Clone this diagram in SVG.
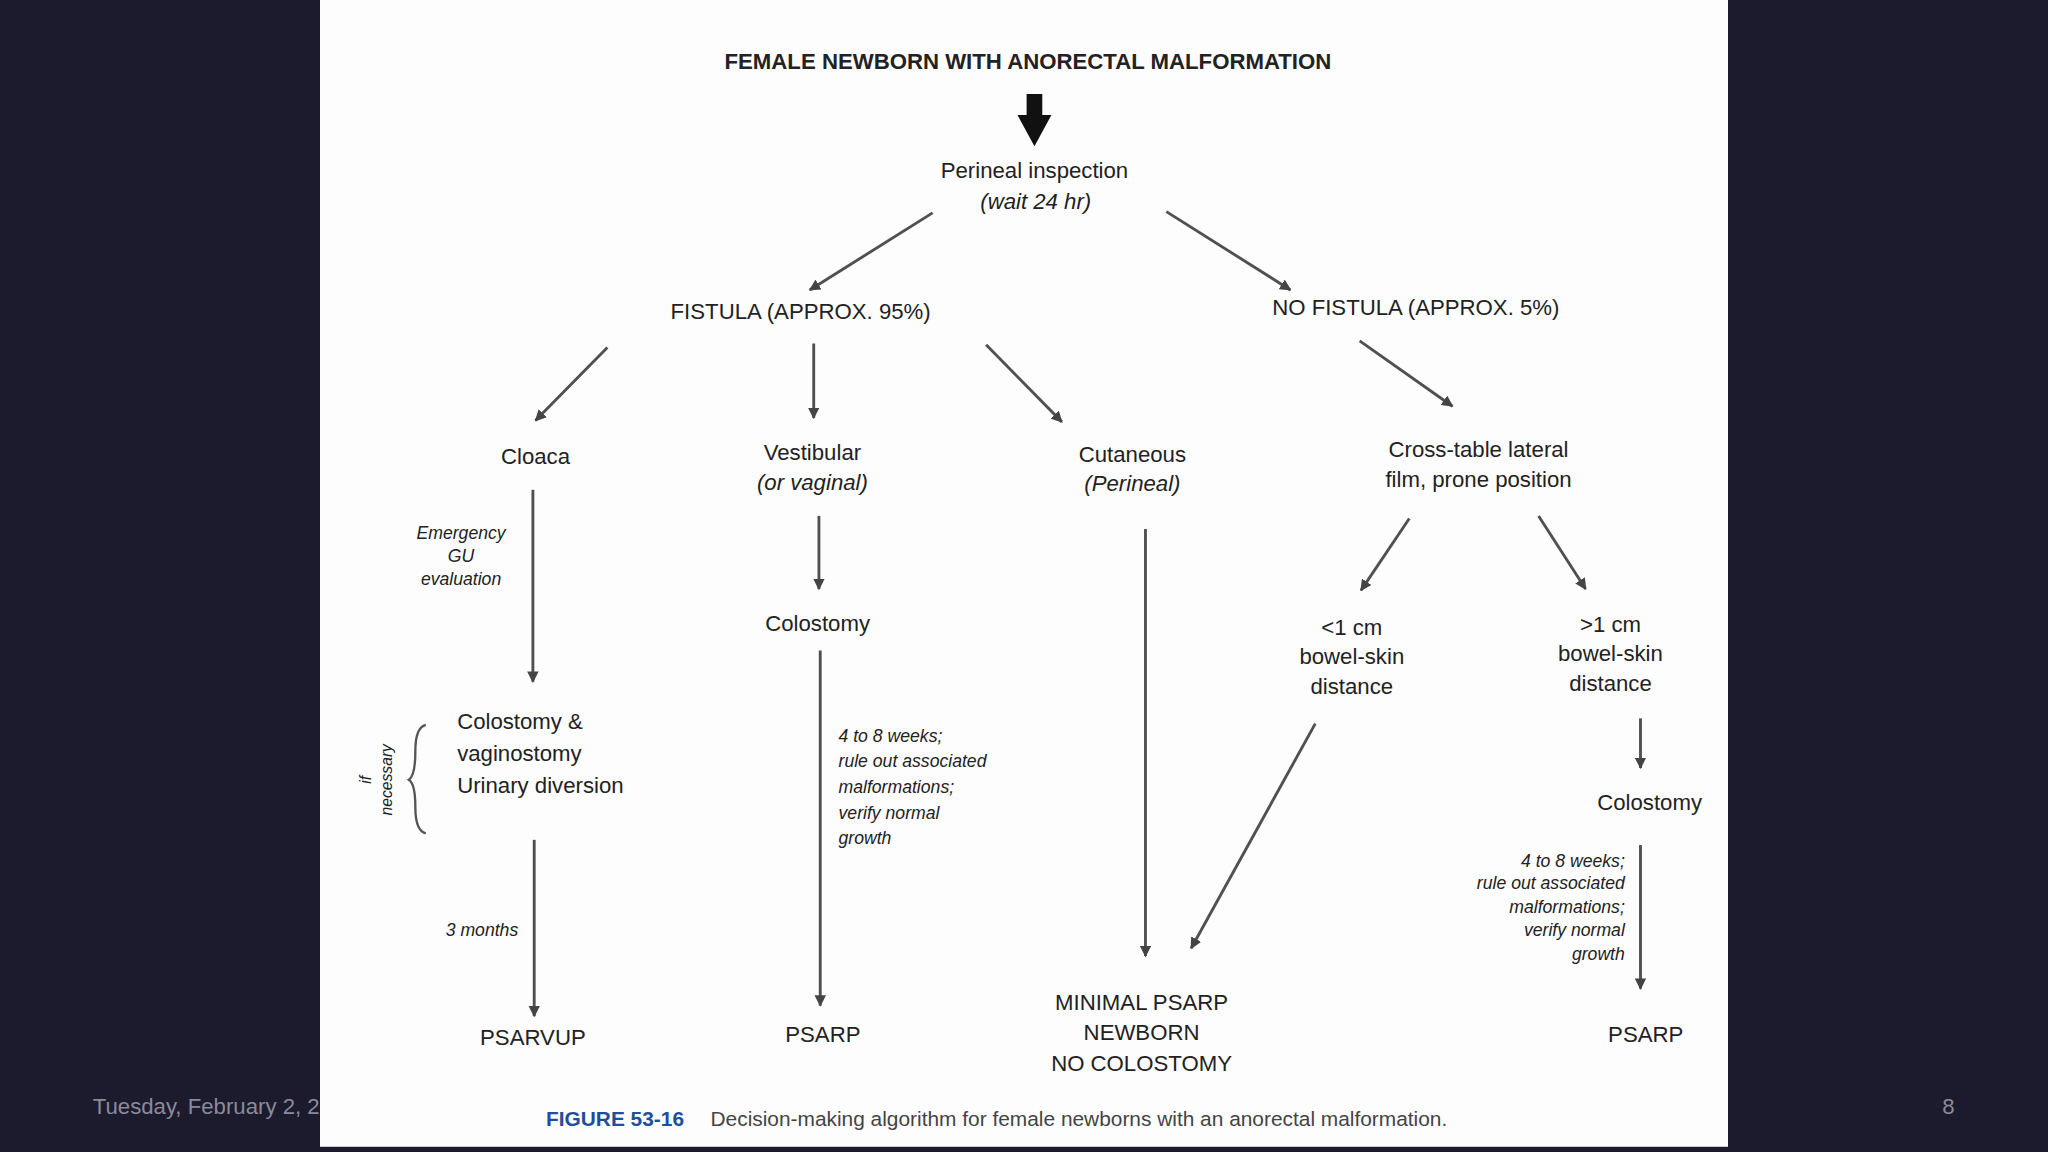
<svg xmlns="http://www.w3.org/2000/svg" width="2048" height="1152" viewBox="0 0 2048 1152">
<defs>
<marker id="ah" viewBox="0 0 10 10" refX="9" refY="5" markerWidth="4" markerHeight="4" orient="auto"><path d="M0,0 L10,5 L0,10 z" fill="#444"/></marker>
<style>
text{font-family:"Liberation Sans",Arial,sans-serif;fill:#222}
.n{font-size:17px;text-anchor:middle}
.i{font-style:italic}
.s{font-size:13.5px;font-style:italic}
.c line{stroke:#505050;stroke-width:2.2;marker-end:url(#ah)}
.f{font-size:17px;fill:#8a8a9a}
</style>
</defs>
<rect width="2048" height="1152" fill="#1c1b2e"/>
<g transform="scale(1.30612)">
<text class="f" x="71" y="853">Tuesday, February 2, 2021</text>
<text class="f" x="1487" y="853">8</text>
<rect x="245" y="0" width="1078" height="878" fill="#fdfdfd"/>
<g id="title"><text x="787" y="53" class="n" style="font-weight:bold;font-size:17px">FEMALE NEWBORN WITH ANORECTAL MALFORMATION</text>
<path d="M786,72 L798,72 L798,88 L805,88 L792,112 L779,88 L786,88 z" fill="#111"/></g>
<g id="perineal"><text class="n" x="792" y="136">Perineal inspection</text><text class="n i" x="793" y="160">(wait 24 hr)</text></g>
<g id="fistula"><text class="n" x="613" y="244">FISTULA (APPROX. 95%)</text></g>
<g id="nofistula"><text class="n" x="1084" y="241">NO FISTULA (APPROX. 5%)</text></g>
<g id="cloaca"><text class="n" x="410" y="355">Cloaca</text></g>
<g id="vestibular"><text class="n" x="622" y="352">Vestibular</text><text class="n i" x="622" y="375">(or vaginal)</text></g>
<g id="cutaneous"><text class="n" x="867" y="354">Cutaneous</text><text class="n i" x="867" y="376">(Perineal)</text></g>
<g id="crosstable"><text class="n" x="1132" y="350">Cross-table lateral</text><text class="n" x="1132" y="373">film, prone position</text></g>
<g id="emergency"><text class="s" text-anchor="middle" x="353" y="413">Emergency</text><text class="s" text-anchor="middle" x="353" y="430">GU</text><text class="s" text-anchor="middle" x="353" y="448">evaluation</text></g>
<g id="colvag"><text style="font-size:17px" x="350" y="558">Colostomy &amp;</text><text style="font-size:17px" x="350" y="583">vaginostomy</text><text style="font-size:17px" x="350" y="607">Urinary diversion</text>
<path d="M326,555 Q318,557 318,575 Q318,594 313,597 Q318,600 318,618 Q318,636 326,638" fill="none" stroke="#555" stroke-width="1.8"/>
<text class="s" transform="translate(284,597) rotate(-90)" text-anchor="middle" style="font-size:12px">if</text>
<text class="s" transform="translate(300,597) rotate(-90)" text-anchor="middle" style="font-size:12px">necessary</text></g>
<g id="months"><text class="s" text-anchor="middle" x="369" y="717">3 months</text></g>
<g id="psarvup"><text class="n" x="408" y="800">PSARVUP</text></g>
<g id="colostomy1"><text class="n" x="626" y="483">Colostomy</text></g>
<g id="note1"><text class="s" x="642" y="568">4 to 8 weeks;</text><text class="s" x="642" y="587">rule out associated</text><text class="s" x="642" y="607">malformations;</text><text class="s" x="642" y="627">verify normal</text><text class="s" x="642" y="646">growth</text></g>
<g id="psarp1"><text class="n" x="630" y="798">PSARP</text></g>
<g id="lt1"><text class="n" x="1035" y="486">&lt;1 cm</text><text class="n" x="1035" y="508">bowel-skin</text><text class="n" x="1035" y="531">distance</text></g>
<g id="gt1"><text class="n" x="1233" y="484">&gt;1 cm</text><text class="n" x="1233" y="506">bowel-skin</text><text class="n" x="1233" y="529">distance</text></g>
<g id="minimal"><text class="n" x="874" y="773">MINIMAL PSARP</text><text class="n" x="874" y="796">NEWBORN</text><text class="n" x="874" y="820">NO COLOSTOMY</text></g>
<g id="colostomy2"><text class="n" x="1263" y="620">Colostomy</text></g>
<g id="note2" text-anchor="end"><text class="s" x="1244" y="664">4 to 8 weeks;</text><text class="s" x="1244" y="681">rule out associated</text><text class="s" x="1244" y="699">malformations;</text><text class="s" x="1244" y="717">verify normal</text><text class="s" x="1244" y="735">growth</text></g>
<g id="psarp2"><text class="n" x="1260" y="798">PSARP</text></g>
<g id="caption"><text x="418" y="862" style="font-size:16px;font-weight:bold;fill:#1f4f9c">FIGURE 53-16</text><text x="544" y="862" style="font-size:16px;fill:#444">Decision-making algorithm for female newborns with an anorectal malformation.</text></g>
<g id="connectors" class="c">
<line x1="714" y1="163" x2="620" y2="222"/>
<line x1="893" y1="162" x2="988" y2="222"/>
<line x1="465" y1="266" x2="410" y2="322"/>
<line x1="623" y1="263" x2="623" y2="320"/>
<line x1="755" y1="264" x2="813" y2="323"/>
<line x1="1041" y1="261" x2="1112" y2="311"/>
<line x1="408" y1="375" x2="408" y2="522"/>
<line x1="627" y1="395" x2="627" y2="451"/>
<line x1="877" y1="405" x2="877" y2="732"/>
<line x1="1079" y1="397" x2="1042" y2="452"/>
<line x1="1178" y1="395" x2="1214" y2="451"/>
<line x1="409" y1="643" x2="409" y2="778"/>
<line x1="628" y1="498" x2="628" y2="770"/>
<line x1="1007" y1="554" x2="912" y2="726"/>
<line x1="1256" y1="550" x2="1256" y2="588"/>
<line x1="1256" y1="647" x2="1256" y2="757"/>
</g>
</g>
</svg>
